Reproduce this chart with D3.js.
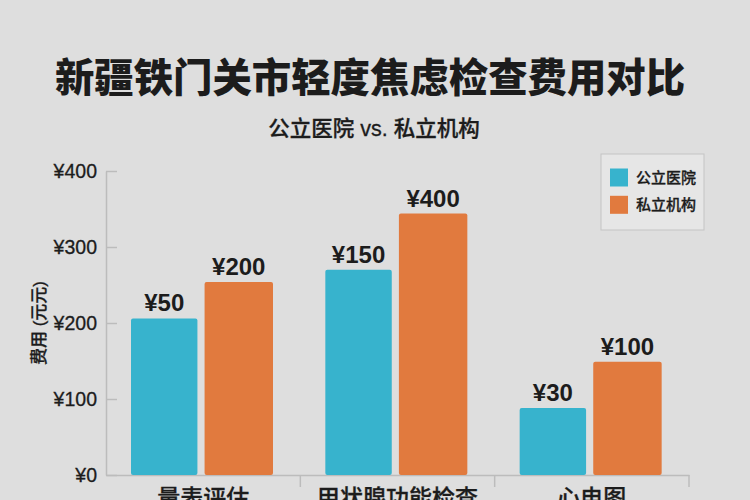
<!DOCTYPE html>
<html>
<head>
    <meta charset="UTF-8">
    <title>新疆铁门关市轻度焦虑检查费用对比</title>
    <script src="https://d3js.org/d3.v7.min.js"></script>
    <style>
        html, body {
            margin: 0;
            padding: 0;
            background: #dedede;
            overflow: hidden;
        }
        svg {
            display: block;
            font-family: "Liberation Sans", "Noto Sans CJK SC", sans-serif;
            fill: #1c1c1c;
        }
        .medium {
            font-weight: 500;
            stroke: #1c1c1c;
            stroke-width: 0.3px;
        }
    </style>
</head>
<body>
    <svg id="chart" width="750" height="500"></svg>

    <script>
        const categories = ["量表评估", "甲状腺功能检查", "心电图"];
        const seriesNames = ["公立医院", "私立机构"];
        // bar heights as drawn against the axis, the printed labels say something else
        const publicHeights = [206, 270, 88];
        const privateHeights = [254, 344, 149];
        const publicLabels = ["¥50", "¥150", "¥30"];
        const privateLabels = ["¥200", "¥400", "¥100"];
        const yTicks = [0, 100, 200, 300, 400];
        const colors = ["#37b3cd", "#e17a3e"];

        const svg = d3.select("#chart");

        const x0 = d3.scaleBand().domain(categories).range([106, 689]);
        const x1 = d3.scaleBand().domain(seriesNames).range([25, 167]).paddingInner(0.07);
        const y = d3.scaleLinear().domain([0, 400]).range([475, 171]);

        svg.append("text")
            .attr("x", 370)
            .attr("y", 92)
            .attr("text-anchor", "middle")
            .attr("font-size", 39.4)
            .attr("font-weight", 900)
            .text("新疆铁门关市轻度焦虑检查费用对比");

        svg.append("text")
            .attr("class", "medium")
            .attr("x", 374)
            .attr("y", 136)
            .attr("text-anchor", "middle")
            .attr("font-size", 21.5)
            .text("公立医院 vs. 私立机构");

        const yAxis = svg.append("g")
            .attr("transform", "translate(106,0)")
            .call(d3.axisLeft(y).tickValues(yTicks).tickSizeInner(-11).tickSizeOuter(0).tickPadding(9).tickFormat(d => "¥" + d));

        const xAxis = svg.append("g")
            .attr("transform", "translate(0,475)")
            .call(d3.axisBottom(x0).tickSize(0).tickPadding(15));

        // category ticks sit on the band edges, not the centres
        xAxis.selectAll(".edge")
            .data(categories)
            .enter()
            .append("line")
            .attr("class", "edge")
            .attr("x1", d => x0(d) + x0.bandwidth())
            .attr("x2", d => x0(d) + x0.bandwidth())
            .attr("y2", 12);

        yAxis.selectAll("text").attr("class", "medium").attr("font-size", 19.5).attr("fill", "#1c1c1c");
        xAxis.selectAll("text").attr("class", "medium").attr("font-size", 23).attr("fill", "#1c1c1c");
        svg.selectAll(".domain, .tick line, .edge").attr("stroke", "#bcbcbc").attr("stroke-width", 1.5);
        svg.selectAll("g").attr("font-family", null);

        svg.append("text")
            .attr("class", "medium")
            .attr("transform", "translate(45,323) rotate(-90)")
            .attr("text-anchor", "middle")
            .attr("font-size", 17)
            .text("费用 (元元)");

        const rows = categories.map((c, i) => ({
            category: c,
            bars: [
                { series: seriesNames[0], height: publicHeights[i], label: publicLabels[i] },
                { series: seriesNames[1], height: privateHeights[i], label: privateLabels[i] }
            ]
        }));

        const groups = svg.selectAll(".group")
            .data(rows)
            .enter()
            .append("g")
            .attr("class", "group")
            .attr("transform", d => `translate(${x0(d.category)},0)`);

        // the blue bars are a touch narrower than the orange ones
        const barWidth = d => d.series === seriesNames[0] ? x1.bandwidth() - 2 : x1.bandwidth();

        groups.selectAll("rect")
            .data(d => d.bars)
            .enter()
            .append("rect")
            .attr("x", d => x1(d.series))
            .attr("y", d => y(d.height))
            .attr("width", barWidth)
            .attr("height", d => y(0) - y(d.height))
            .attr("rx", 2)
            .attr("fill", d => colors[seriesNames.indexOf(d.series)]);

        groups.selectAll("text")
            .data(d => d.bars)
            .enter()
            .append("text")
            .attr("x", d => x1(d.series) + barWidth(d) / 2)
            .attr("y", d => y(d.height) - 7)
            .attr("text-anchor", "middle")
            .attr("font-size", 24)
            .attr("font-weight", 700)
            .text(d => d.label);

        const legend = svg.append("g").attr("transform", "translate(601,154)");

        legend.append("rect")
            .attr("width", 103)
            .attr("height", 76)
            .attr("fill", "#e6e6e6")
            .attr("stroke", "#c4c4c4");

        const legendItems = legend.selectAll(".item")
            .data(seriesNames)
            .enter()
            .append("g")
            .attr("class", "item")
            .attr("transform", (d, i) => `translate(9,${14.5 + i * 27.3})`);

        legendItems.append("rect")
            .attr("width", 18)
            .attr("height", 18)
            .attr("fill", (d, i) => colors[i]);

        legendItems.append("text")
            .attr("class", "medium")
            .attr("x", 26)
            .attr("y", 14.5)
            .attr("font-size", 15)
            .text(d => d);
    </script>
</body>
</html>
